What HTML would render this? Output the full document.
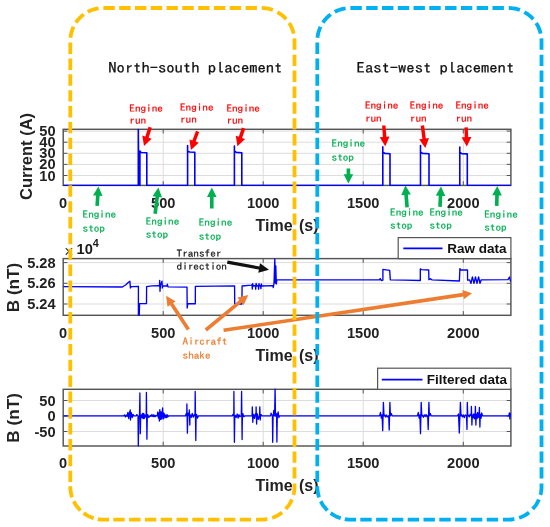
<!DOCTYPE html><html><head><meta charset="utf-8"><style>html,body{margin:0;padding:0;background:#fff;width:550px;height:527px;overflow:hidden}svg{display:block}</style></head><body><svg width="550" height="527" viewBox="0 0 550 527">
<defs>
<clipPath id="ctop"><rect x="63.2" y="128.8" width="447.7" height="57.1"/></clipPath>
<clipPath id="cmid"><rect x="63.2" y="258.1" width="447.7" height="57.7"/></clipPath>
<clipPath id="cbot"><rect x="63.2" y="388.8" width="447.7" height="57.7"/></clipPath>
</defs>
<style>.tk{font:bold 14.6px "Liberation Sans",Arial,sans-serif;fill:#222}.xl{font:bold 16px "Liberation Sans",Arial,sans-serif;fill:#222}.yl{font:bold 16.5px "Liberation Sans",Arial,sans-serif;fill:#222}.lg{font:bold 13.5px "Liberation Sans",Arial,sans-serif;fill:#111}.an{font-family:"IPAGothic","Liberation Mono",monospace;font-size:11.2px;stroke:currentColor;stroke-width:0.25px}.ti{font-family:"IPAGothic","Liberation Mono",monospace;font-size:16.6px;fill:#111;stroke:#111;stroke-width:0.3px}</style>
<rect width="550" height="527" fill="#fff"/>
<line x1="63.2" y1="175.5" x2="510.9" y2="175.5" stroke="#dcdcdc" stroke-width="1"/>
<line x1="63.2" y1="164.4" x2="510.9" y2="164.4" stroke="#dcdcdc" stroke-width="1"/>
<line x1="63.2" y1="153.3" x2="510.9" y2="153.3" stroke="#dcdcdc" stroke-width="1"/>
<line x1="63.2" y1="142.2" x2="510.9" y2="142.2" stroke="#dcdcdc" stroke-width="1"/>
<line x1="63.2" y1="131.1" x2="510.9" y2="131.1" stroke="#dcdcdc" stroke-width="1"/>
<line x1="163.2" y1="129.3" x2="163.2" y2="185.4" stroke="#dcdcdc" stroke-width="1"/>
<line x1="263.2" y1="129.3" x2="263.2" y2="185.4" stroke="#dcdcdc" stroke-width="1"/>
<line x1="363.2" y1="129.3" x2="363.2" y2="185.4" stroke="#dcdcdc" stroke-width="1"/>
<line x1="463.3" y1="129.3" x2="463.3" y2="185.4" stroke="#dcdcdc" stroke-width="1"/>
<path d="M63.2 175.5h4.2M510.9 175.5h-4.2M63.2 164.4h4.2M510.9 164.4h-4.2M63.2 153.3h4.2M510.9 153.3h-4.2M63.2 142.2h4.2M510.9 142.2h-4.2M63.2 131.1h4.2M510.9 131.1h-4.2M163.2 185.4v-4.2M163.2 129.3v4.2M263.2 185.4v-4.2M263.2 129.3v4.2M363.2 185.4v-4.2M363.2 129.3v4.2M463.3 185.4v-4.2M463.3 129.3v4.2" stroke="#555555" stroke-width="1" fill="none"/>
<rect x="63.2" y="129.3" width="447.7" height="56.1" fill="none" stroke="#555555" stroke-width="1.45"/>
<path d="M63.2 185.5 L138.3 185.5 L138.3 129.3 L138.9 185.5 L139.9 185.5 L139.9 151 L141.1 152.5 L146.8 152.8 L146.8 185.5 L187.6 185.5 L187.6 145.5 L187.6 151.1 L188.6 151.6 L189.6 152 L194.8 152.3 L194.8 185.5 L234.4 185.5 L234.4 146 L234.4 151.3 L235.4 151.8 L236.4 152.4 L241.8 152.7 L241.8 185.5 L382.8 185.5 L382.8 146.9 L382.8 152.1 L383.8 152.6 L384.8 153.4 L390 153.7 L390 185.5 L420.5 185.5 L420.5 145.5 L420.5 152.1 L421.5 152.6 L422.5 153.4 L429 153.7 L429 185.5 L459.8 185.5 L459.8 147 L459.8 152.5 L460.8 153 L461.8 153.6 L467.3 153.9 L467.3 185.5 L510.9 185.5" stroke="#0000ff" stroke-width="1.6" fill="none" stroke-linejoin="round" clip-path="url(#ctop)"/>
<text x="55.6" y="180.5" class="tk" text-anchor="end">10</text>
<text x="55.6" y="169.4" class="tk" text-anchor="end">20</text>
<text x="55.6" y="158.3" class="tk" text-anchor="end">30</text>
<text x="55.6" y="147.2" class="tk" text-anchor="end">40</text>
<text x="55.6" y="136.1" class="tk" text-anchor="end">50</text>
<text x="63.1" y="207.8" class="tk" text-anchor="middle">0</text>
<text x="163.2" y="207.8" class="tk" text-anchor="middle">500</text>
<text x="263.2" y="207.8" class="tk" text-anchor="middle">1000</text>
<text x="363.2" y="207.8" class="tk" text-anchor="middle">1500</text>
<text x="463.3" y="207.8" class="tk" text-anchor="middle">2000</text>
<text x="255.5" y="230.7" class="xl" word-spacing="2">Time (s)</text>
<text transform="translate(31.6,156.5) rotate(-90)" class="yl" text-anchor="middle">Current (A)</text>
<line x1="63.2" y1="304" x2="510.9" y2="304" stroke="#dcdcdc" stroke-width="1"/>
<line x1="63.2" y1="283.3" x2="510.9" y2="283.3" stroke="#dcdcdc" stroke-width="1"/>
<line x1="63.2" y1="262.6" x2="510.9" y2="262.6" stroke="#dcdcdc" stroke-width="1"/>
<line x1="163.2" y1="258.6" x2="163.2" y2="315.3" stroke="#dcdcdc" stroke-width="1"/>
<line x1="263.2" y1="258.6" x2="263.2" y2="315.3" stroke="#dcdcdc" stroke-width="1"/>
<line x1="363.2" y1="258.6" x2="363.2" y2="315.3" stroke="#dcdcdc" stroke-width="1"/>
<line x1="463.3" y1="258.6" x2="463.3" y2="315.3" stroke="#dcdcdc" stroke-width="1"/>
<path d="M63.2 304h4.2M510.9 304h-4.2M63.2 283.3h4.2M510.9 283.3h-4.2M63.2 262.6h4.2M510.9 262.6h-4.2M163.2 315.3v-4.2M163.2 258.6v4.2M263.2 315.3v-4.2M263.2 258.6v4.2M363.2 315.3v-4.2M363.2 258.6v4.2M463.3 315.3v-4.2M463.3 258.6v4.2" stroke="#555555" stroke-width="1" fill="none"/>
<rect x="63.2" y="258.6" width="447.7" height="56.7" fill="none" stroke="#555555" stroke-width="1.45"/>
<path d="M63.2 286.6 L122.3 287 L125.6 285 L128.5 282.3 L129.9 281.2 L130.4 288 L131.3 286.6 L138.4 286.3 L138.4 316 L139.2 316 L139.6 303.6 L146.5 303.6 L146.6 286.6 L152 285.9 L158 285.7 L159.5 286 L159.7 280.4 L160 291.3 L160.4 285.5 L162 281.2 L162.3 288 L162.7 285.8 L167 286 L167.3 284.2 L168 286.8 L187 287.1 L187.2 308 L187.8 303.7 L195.3 303.7 L195.4 286.3 L234.6 285.9 L234.7 304 L241.9 304 L242.1 286 L251.2 285.2 L252 284.8 L252.3 289 L252.7 283.6 L253.2 286 L255.4 285.5 L255.7 289.2 L256.1 283.5 L256.6 286 L258.3 285.5 L258.6 289.2 L259 283.6 L259.5 286 L260.6 285.5 L260.9 288.6 L261.3 284 L261.8 286 L272.8 285.6 L273.3 287.5 L274 283.5 L274.8 259 L275.3 283 L275.8 266 L276.3 284 L276.8 279.8 L379.4 279.8 L380.2 278.6 L381.2 280.5 L382.9 280 L382.9 269.3 L389.7 270.4 L390.3 279.8 L405 280.2 L420.3 280.5 L420.3 268.9 L421.5 269.6 L428.7 270 L428.9 279.7 L430.5 278.8 L432 279.9 L459.4 281 L459.9 268.7 L460.7 270 L467.5 270 L467.6 280.2 L469.7 280 L471 283.4 L472.4 276.9 L474 283.4 L475.5 276.9 L477 283.4 L478.6 276.9 L480 283.4 L481.2 279.8 L508 279.6 L509.5 277 L510.5 281 L510.9 279.5" stroke="#0000ff" stroke-width="1.35" fill="none" stroke-linejoin="round" clip-path="url(#cmid)"/>
<text x="55.6" y="309" class="tk" text-anchor="end">5.24</text>
<text x="55.6" y="288.3" class="tk" text-anchor="end">5.26</text>
<text x="55.6" y="267.6" class="tk" text-anchor="end">5.28</text>
<text x="63.1" y="337.7" class="tk" text-anchor="middle">0</text>
<text x="163.2" y="337.7" class="tk" text-anchor="middle">500</text>
<text x="263.2" y="337.7" class="tk" text-anchor="middle">1000</text>
<text x="363.2" y="337.7" class="tk" text-anchor="middle">1500</text>
<text x="463.3" y="337.7" class="tk" text-anchor="middle">2000</text>
<text x="255.5" y="360.6" class="xl" word-spacing="2">Time (s)</text>
<text transform="translate(19.2,287.5) rotate(-90) scale(1.04,1)" class="yl" text-anchor="middle">B (nT)</text>
<text x="64.2" y="256.6" style="font:16px 'Liberation Sans',Arial,sans-serif;fill:#333">×</text>
<text x="76.6" y="254.4" style="font:bold 14.6px 'Liberation Sans',Arial,sans-serif;fill:#1a1a1a">10</text>
<text x="92.8" y="246.6" style="font:bold 10.8px 'Liberation Sans',Arial,sans-serif;fill:#1a1a1a">4</text>
<line x1="63.2" y1="431.5" x2="510.9" y2="431.5" stroke="#dcdcdc" stroke-width="1"/>
<line x1="63.2" y1="416" x2="510.9" y2="416" stroke="#dcdcdc" stroke-width="1"/>
<line x1="63.2" y1="400.5" x2="510.9" y2="400.5" stroke="#dcdcdc" stroke-width="1"/>
<line x1="163.2" y1="389.3" x2="163.2" y2="446.0" stroke="#dcdcdc" stroke-width="1"/>
<line x1="263.2" y1="389.3" x2="263.2" y2="446.0" stroke="#dcdcdc" stroke-width="1"/>
<line x1="363.2" y1="389.3" x2="363.2" y2="446.0" stroke="#dcdcdc" stroke-width="1"/>
<line x1="463.3" y1="389.3" x2="463.3" y2="446.0" stroke="#dcdcdc" stroke-width="1"/>
<path d="M63.2 431.5h4.2M510.9 431.5h-4.2M63.2 416h4.2M510.9 416h-4.2M63.2 400.5h4.2M510.9 400.5h-4.2M163.2 446.0v-4.2M163.2 389.3v4.2M263.2 446.0v-4.2M263.2 389.3v4.2M363.2 446.0v-4.2M363.2 389.3v4.2M463.3 446.0v-4.2M463.3 389.3v4.2" stroke="#555555" stroke-width="1" fill="none"/>
<rect x="63.2" y="389.3" width="447.7" height="56.7" fill="none" stroke="#555555" stroke-width="1.45"/>
<path d="M63.2 415.8 L123.7 415.8 L124.5 415 L125.4 416.9 L126.2 415.1 L127.1 416.5 L127.9 412.4 L128.8 418.6 L129.6 411.7 L130.2 415.8 L130.2 409.8 L130.5 417.8 L130.5 420 L130.8 415.8 L131.3 412.7 L132.2 417.5 L133 414.4 L133.9 416 L134.5 415.8 L136.3 415.8 L136.8 414.6 L138 415.8 L138.3 446.5 L138.8 418 L139.5 415.8 L139.9 393 L140.3 433.7 L140.7 415.8 L141 415.8 L141.3 414.9 L141.9 417.6 L142.5 413.5 L143.1 418.6 L143.7 413.3 L144.3 418.5 L144.9 415 L145.5 417 L146.2 415.8 L146.2 415.8 L146.4 392.4 L146.9 439.2 L147.3 415.8 L147.4 415.8 L147.8 414.6 L148.8 417.5 L150 415.8 L150 415.8 L150.3 415.5 L151 416.2 L151.7 414.8 L152.4 416.3 L153.1 414.7 L153.8 416.7 L154.5 415.3 L155.2 416.6 L155.9 415.5 L156.8 415.8 L157.2 415.8 L157.8 412 L158.4 418 L158.9 413 L159.4 421 L159.8 409.7 L160.3 419.5 L160.9 412 L161.5 419 L162.1 413 L162.6 408 L163.1 419 L163.6 413 L164.1 418 L164.6 414 L164.8 415.8 L165.1 415.3 L165.7 417.5 L166.3 415 L166.9 417.5 L167.5 415 L168.1 416.6 L169 415.8 L185.5 415.8 L185.6 415.8 L186 413.9 L186.6 415.8 L186.7 415.8 L186.9 404 L187.4 433.2 L187.8 415.8 L187.8 415.8 L188.2 413.2 L189.1 415.8 L189.2 415.8 L189.3 410 L189.8 425 L190 415.8 L190.2 415.8 L190.4 415 L191.3 417.3 L192.2 413.4 L193.2 417.2 L194.1 414.8 L194.6 415.8 L195 415.8 L195.2 391.4 L195.8 440.5 L196.1 415.8 L196.2 415.8 L196.6 414.4 L197.5 418 L198.5 415.8 L232.5 415.8 L232.5 415.8 L232.9 414.4 L233.7 415.8 L233.8 415.8 L233.9 391.4 L234.4 442.3 L234.8 415.8 L234.9 415.8 L235.3 415.4 L236.2 417.4 L237.2 414 L238.1 418.2 L239 414.7 L239.9 416.7 L241 415.8 L241.3 415.8 L241.6 391.4 L242.1 439.5 L242.4 415.8 L242.5 415.8 L242.9 413.7 L243.8 416.7 L245 415.8 L250.5 415.8 L252.1 415.8 L252.3 406.8 L252.8 422.3 L253.2 415.8 L253.2 415.8 L253.6 414.3 L254.5 418.3 L255.4 414 L255.9 415.8 L256 415.8 L256.1 406.8 L256.6 424 L257 415.8 L257 415.8 L257.4 413.9 L258.3 419.3 L259.5 415.8 L259.6 415.8 L259.8 406.8 L260.2 420 L260.6 415.8 L260.6 415.8 L261.1 414.6 L262 415.8 L270.5 415.8 L270.6 415.8 L271.1 413.2 L272.4 415.8 L272.7 442.3 L273.1 416 L273.3 415.8 L273.8 410.5 L274.6 415.8 L275.1 388 L275.5 416 L275.7 415.8 L276.1 413.3 L276.6 415.8 L276.9 442 L277.3 414 L277.6 415.8 L278.1 411.8 L278.9 417.6 L279.5 415.8 L279.8 415.8 L379.6 415.8 L380.5 412.5 L381.3 418 L382.1 415 L382.7 430.7 L383.4 402.3 L384 415.8 L384.3 415.8 L384.8 415.1 L385.6 417 L386.5 415 L387.4 416.9 L388.7 415.8 L389.2 430 L389.9 402.3 L390.4 415.8 L391.3 413.5 L392.1 415.8 L417.4 415.8 L418.3 412.5 L419.1 418 L419.9 415 L420.5 433.7 L421.2 402.3 L421.8 415.8 L422.1 415.8 L422.5 415.5 L423.4 417.2 L424.3 414.8 L425.2 416.5 L426.1 414.5 L427 416.7 L427.7 415.8 L428.2 429.5 L428.9 402.3 L429.4 415.8 L430.3 413.5 L431.1 415.8 L457.5 415.8 L458.5 414 L459.3 433 L460.4 402.3 L461 415.8 L461.3 415.8 L461.8 414.9 L462.6 416.9 L463.5 415 L464.4 417.6 L465.3 414.9 L466.5 415.8 L467 429.4 L467.3 402.5 L467.8 415.8 L468 415.8 L468.4 415.2 L469.3 416.9 L470.2 414.3 L471.2 415.8 L471.2 415.8 L471.4 406.5 L471.9 425 L472.3 415.8 L472.3 415.8 L472.6 415 L473.2 417.5 L473.8 413.8 L474.4 418.8 L475 415.8 L475.1 415.8 L475.4 406.5 L475.9 425 L476.2 415.8 L476.2 415.8 L476.5 414.2 L477.1 418.5 L477.7 412.3 L478.3 417.5 L479.1 415.8 L479.1 415.8 L479.4 407.5 L479.9 427 L480.2 415.8 L480.2 415.8 L480.5 414.3 L481.1 418.2 L481.7 412.9 L482.5 415.8 L482.6 415.8 L508.8 415.8 L509.4 413 L509.9 419 L510.4 413.5 L510.9 415.8" stroke="#0000ff" stroke-width="1.3" fill="none" stroke-linejoin="round" clip-path="url(#cbot)"/>
<text x="55.6" y="436.5" class="tk" text-anchor="end">-50</text>
<text x="55.6" y="421" class="tk" text-anchor="end">0</text>
<text x="55.6" y="405.5" class="tk" text-anchor="end">50</text>
<text x="63.1" y="468.4" class="tk" text-anchor="middle">0</text>
<text x="163.2" y="468.4" class="tk" text-anchor="middle">500</text>
<text x="263.2" y="468.4" class="tk" text-anchor="middle">1000</text>
<text x="363.2" y="468.4" class="tk" text-anchor="middle">1500</text>
<text x="463.3" y="468.4" class="tk" text-anchor="middle">2000</text>
<text x="255.5" y="491.3" class="xl" word-spacing="2">Time (s)</text>
<text transform="translate(19.2,417.9) rotate(-90) scale(1.04,1)" class="yl" text-anchor="middle">B (nT)</text>
<rect x="398.2" y="237.6" width="112.7" height="21" fill="#fff" stroke="#555555" stroke-width="1.2"/>
<line x1="403.3" y1="248.4" x2="442.5" y2="248.4" stroke="#0000ff" stroke-width="1.6"/>
<text x="447.3" y="253.0" class="lg">Raw data</text>
<rect x="377.6" y="368.2" width="133.3" height="21.1" fill="#fff" stroke="#555555" stroke-width="1.2"/>
<line x1="381.8" y1="379.6" x2="422.5" y2="379.6" stroke="#0000ff" stroke-width="1.6"/>
<text x="426.7" y="384.20000000000005" class="lg">Filtered data</text>
<text transform="translate(108.2,72.6) scale(1,0.88)" class="ti" fill="#111" color="#111">North-south placement</text>
<text transform="translate(356.6,73.4) scale(1,0.88)" class="ti" fill="#111" color="#111">East-west placement</text>
<text transform="translate(129.3,111.7) scale(1,0.88)" class="an" fill="#ff0000" color="#ff0000">Engine</text>
<text transform="translate(129.3,124.2) scale(1,0.88)" class="an" fill="#ff0000" color="#ff0000">run</text>
<text transform="translate(180,110.8) scale(1,0.88)" class="an" fill="#ff0000" color="#ff0000">Engine</text>
<text transform="translate(180,123.3) scale(1,0.88)" class="an" fill="#ff0000" color="#ff0000">run</text>
<text transform="translate(226.4,111.5) scale(1,0.88)" class="an" fill="#ff0000" color="#ff0000">Engine</text>
<text transform="translate(226.4,124) scale(1,0.88)" class="an" fill="#ff0000" color="#ff0000">run</text>
<text transform="translate(364.9,109.4) scale(1,0.88)" class="an" fill="#ff0000" color="#ff0000">Engine</text>
<text transform="translate(364.9,121.9) scale(1,0.88)" class="an" fill="#ff0000" color="#ff0000">run</text>
<text transform="translate(409.8,109.4) scale(1,0.88)" class="an" fill="#ff0000" color="#ff0000">Engine</text>
<text transform="translate(409.8,121.9) scale(1,0.88)" class="an" fill="#ff0000" color="#ff0000">run</text>
<text transform="translate(455.4,109.4) scale(1,0.88)" class="an" fill="#ff0000" color="#ff0000">Engine</text>
<text transform="translate(455.4,121.9) scale(1,0.88)" class="an" fill="#ff0000" color="#ff0000">run</text>
<path d="M148.5 126.7 L145.3 136.6 L142.3 135.6 L144.0 146.1 L151.6 138.7 L148.6 137.7 L151.9 127.7Z" fill="#ff0000"/>
<path d="M196.0 130.7 L192.4 140.5 L189.5 139.4 L190.9 149.9 L198.7 142.7 L195.7 141.6 L199.2 131.9Z" fill="#ff0000"/>
<path d="M241.9 127.6 L238.8 136.7 L235.8 135.7 L237.4 146.2 L245.1 138.9 L242.1 137.9 L245.3 128.8Z" fill="#ff0000"/>
<path d="M382.1 125.6 L382.9 137.0 L379.7 137.2 L385.3 146.2 L389.5 136.5 L386.4 136.7 L385.5 125.4Z" fill="#ff0000"/>
<path d="M420.7 125.7 L422.4 138.9 L419.2 139.3 L425.3 148.0 L429.0 138.1 L425.8 138.5 L424.1 125.3Z" fill="#ff0000"/>
<path d="M464.4 127.4 L464.7 137.2 L461.6 137.3 L466.8 146.5 L471.4 136.9 L468.2 137.0 L467.8 127.2Z" fill="#ff0000"/>
<text transform="translate(82.6,218.3) scale(1,0.88)" class="an" fill="#00b050" color="#00b050">Engine</text>
<text transform="translate(82.6,231.5) scale(1,0.88)" class="an" fill="#00b050" color="#00b050">stop</text>
<text transform="translate(145.7,224.8) scale(1,0.88)" class="an" fill="#00b050" color="#00b050">Engine</text>
<text transform="translate(145.7,238) scale(1,0.88)" class="an" fill="#00b050" color="#00b050">stop</text>
<text transform="translate(198.7,226.3) scale(1,0.88)" class="an" fill="#00b050" color="#00b050">Engine</text>
<text transform="translate(198.7,239.5) scale(1,0.88)" class="an" fill="#00b050" color="#00b050">stop</text>
<text transform="translate(331.6,147.3) scale(1,0.88)" class="an" fill="#00b050" color="#00b050">Engine</text>
<text transform="translate(331.6,160.5) scale(1,0.88)" class="an" fill="#00b050" color="#00b050">stop</text>
<text transform="translate(390.1,215.6) scale(1,0.88)" class="an" fill="#00b050" color="#00b050">Engine</text>
<text transform="translate(390.1,228.8) scale(1,0.88)" class="an" fill="#00b050" color="#00b050">stop</text>
<text transform="translate(429.4,215.6) scale(1,0.88)" class="an" fill="#00b050" color="#00b050">Engine</text>
<text transform="translate(429.4,228.8) scale(1,0.88)" class="an" fill="#00b050" color="#00b050">stop</text>
<text transform="translate(484.2,218) scale(1,0.88)" class="an" fill="#00b050" color="#00b050">Engine</text>
<text transform="translate(484.2,231.2) scale(1,0.88)" class="an" fill="#00b050" color="#00b050">stop</text>
<path d="M98.9 206.0 L99.6 195.8 L102.6 196.0 L98.4 186.4 L93.0 195.4 L96.0 195.6 L95.3 205.8Z" fill="#00b050"/>
<path d="M156.9 214.0 L159.0 197.1 L162.0 197.4 L158.4 187.6 L152.5 196.2 L155.5 196.6 L153.3 213.6Z" fill="#00b050"/>
<path d="M213.6 208.4 L213.6 196.9 L216.6 196.9 L211.8 187.6 L207.0 196.9 L210.0 196.9 L210.0 208.4Z" fill="#00b050"/>
<path d="M346.6 168.5 L346.6 174.2 L343.6 174.2 L348.4 183.5 L353.2 174.2 L350.2 174.2 L350.2 168.5Z" fill="#00b050"/>
<path d="M408.9 207.2 L407.9 194.6 L410.9 194.4 L405.4 185.5 L401.3 195.1 L404.3 194.9 L405.3 207.4Z" fill="#00b050"/>
<path d="M441.8 207.0 L442.3 195.9 L445.3 196.0 L441.0 186.5 L435.8 195.6 L438.7 195.7 L438.2 206.8Z" fill="#00b050"/>
<path d="M498.5 206.0 L498.8 195.4 L501.8 195.4 L497.3 186.0 L492.2 195.2 L495.2 195.2 L494.9 205.8Z" fill="#00b050"/>
<text transform="translate(176.6,256.5) scale(1,0.88)" class="an" fill="#1a1a1a" color="#1a1a1a">Transfer</text>
<text transform="translate(176.6,269.6) scale(1,0.88)" class="an" fill="#1a1a1a" color="#1a1a1a">direction</text>
<path d="M227.0 263.8 L258.9 269.6 L258.3 272.7 L269.0 269.8 L260.0 263.3 L259.4 266.4 L227.6 260.6Z" fill="#111111"/>
<text transform="translate(182.6,345.4) scale(1,0.88)" class="an" fill="#ed7d31" color="#ed7d31">Aircraft</text>
<text transform="translate(182.6,358.7) scale(1,0.88)" class="an" fill="#ed7d31" color="#ed7d31">shake</text>
<path d="M189.9 328.6 L173.1 303.1 L175.7 301.4 L166.1 295.7 L167.5 306.7 L170.1 305.0 L186.9 330.6Z" fill="#ed7d31"/>
<path d="M206.9 331.4 L241.7 302.7 L243.7 305.1 L248.3 295.0 L237.5 297.6 L239.4 300.0 L204.7 328.6Z" fill="#ed7d31"/>
<path d="M223.9 332.1 L463.4 296.4 L463.8 299.2 L472.0 293.3 L462.4 290.1 L462.8 292.8 L223.3 328.5Z" fill="#ed7d31"/>
<path fill="none" stroke-width="3.8" stroke="#ffc000" d="M103.4 8.0L114.8 8.0M119.2 8.0L130.6 8.0M135.0 8.0L146.4 8.0M150.8 8.0L162.2 8.0M166.5 8.0L177.9 8.0M182.3 8.0L193.7 8.0M198.1 8.0L209.5 8.0M213.9 8.0L225.3 8.0M229.7 8.0L241.1 8.0M245.5 8.0L256.9 8.0M261.8 8.0L262.7 8.0L263.7 8.1L264.6 8.1L265.6 8.3L266.5 8.4L267.5 8.5L268.4 8.7L269.3 8.9L270.2 9.2L271.1 9.4L272.1 9.7L272.9 10.0M277.4 12.1L278.2 12.6L279.1 13.1L279.8 13.6L280.6 14.1L281.4 14.7L282.1 15.3L282.9 15.9L283.6 16.5L284.3 17.1L285.0 17.8L285.6 18.5L286.3 19.2M289.2 23.1L289.7 23.9L290.2 24.7L290.7 25.6L291.1 26.4L291.5 27.3L291.9 28.1L292.2 29.0L292.6 29.9L292.9 30.8L293.2 31.7L293.4 32.6L293.6 33.6M294.4 38.4L294.5 39.4L294.5 40.3L294.5 41.3L294.5 42.2L294.5 43.2L294.5 44.1L294.5 45.1L294.5 46.0L294.5 47.0L294.5 47.9L294.5 48.9L294.5 49.8M294.5 54.7L294.5 66.1M294.5 70.6L294.5 82.0M294.5 86.5L294.5 97.9M294.5 102.3L294.5 113.7M294.5 118.2L294.5 129.6M294.5 134.1L294.5 145.4M294.5 149.9L294.5 161.3M294.5 165.8L294.5 177.2M294.5 181.6L294.5 193.0M294.5 197.5L294.5 208.9M294.5 213.4L294.5 224.8M294.5 229.2L294.5 240.6M294.5 245.1L294.5 256.5M294.5 261.0L294.5 272.4M294.5 276.8L294.5 288.2M294.5 292.7L294.5 304.1M294.5 308.6L294.5 320.0M294.5 324.4L294.5 335.8M294.5 340.3L294.5 351.7M294.5 356.2L294.5 367.6M294.5 372.0L294.5 383.4M294.5 387.9L294.5 399.3M294.5 403.8L294.5 415.2M294.5 419.6L294.5 431.0M294.5 435.5L294.5 446.9M294.5 451.4L294.5 462.8M294.5 467.2L294.5 478.6M294.5 483.6L294.5 484.5L294.5 485.5L294.5 486.4L294.5 487.4L294.5 488.3L294.4 489.3L294.3 490.2L294.2 491.1L294.0 492.1L293.9 493.0L293.7 494.0L293.4 494.9M291.9 499.5L291.5 500.4L291.1 501.3L290.6 502.1L290.2 502.9L289.7 503.8L289.2 504.6L288.7 505.3L288.1 506.1L287.5 506.9L286.9 507.6L286.3 508.3L285.7 509.0M282.1 512.4L281.3 513.0L280.6 513.5L279.8 514.1L279.0 514.6L278.2 515.1L277.3 515.6L276.5 516.0L275.6 516.4L274.8 516.8L273.9 517.2L273.0 517.5L272.1 517.8M267.4 519.1L266.4 519.2L265.5 519.4L264.5 519.5L263.6 519.5L262.6 519.6L261.7 519.6L260.7 519.6L259.8 519.6L258.8 519.6L257.9 519.6L256.9 519.6L256.0 519.6M251.1 519.6L239.7 519.6M235.3 519.6L223.9 519.6M219.5 519.6L208.1 519.6M203.7 519.6L192.3 519.6M187.9 519.6L176.5 519.6M172.1 519.6L160.7 519.6M156.3 519.6L144.9 519.6M140.5 519.6L129.1 519.6M124.7 519.6L113.3 519.6M109.1 519.6L108.2 519.6L107.2 519.6L106.3 519.6L105.3 519.6L104.4 519.6L103.4 519.6L102.5 519.6L101.5 519.6L100.6 519.5L99.7 519.4L98.7 519.3L97.8 519.1M93.7 518.2L92.8 517.9L91.9 517.6L91.0 517.2L90.2 516.9L89.3 516.5L88.5 516.1L87.6 515.6L86.8 515.2L86.0 514.7L85.2 514.2L84.4 513.6L83.6 513.1M80.4 510.4L79.8 509.7L79.1 509.0L78.5 508.3L77.9 507.6L77.3 506.9L76.7 506.1L76.1 505.3L75.6 504.6L75.1 503.8L74.6 502.9L74.2 502.1L73.7 501.3M72.1 497.4L71.8 496.5L71.6 495.6L71.3 494.7L71.1 493.8L70.9 492.9L70.7 491.9L70.6 491.0L70.5 490.0L70.4 489.1L70.3 488.1L70.3 487.2L70.3 486.2M70.3 482.1L70.3 470.7M70.3 466.2L70.3 454.8M70.3 450.4L70.3 439.0M70.3 434.5L70.3 423.1M70.3 418.7L70.3 407.3M70.3 402.8L70.3 391.4M70.3 387.0L70.3 375.6M70.3 371.1L70.3 359.7M70.3 355.3L70.3 343.9M70.3 339.4L70.3 328.0M70.3 323.5L70.3 312.1M70.3 307.7L70.3 296.3M70.3 291.8L70.3 280.4M70.3 276.0L70.3 264.6M70.3 260.1L70.3 248.7M70.3 244.3L70.3 232.9M70.3 228.4L70.3 217.0M70.3 212.6L70.3 201.2M70.3 196.7L70.3 185.3M70.3 180.9L70.3 169.4M70.3 165.0L70.3 153.6M70.3 149.1L70.3 137.7M70.3 133.3L70.3 121.9M70.3 117.4L70.3 106.0M70.3 101.6L70.3 90.2M70.3 85.7L70.3 74.3M70.3 69.9L70.3 58.5M70.3 54.0L70.3 42.6M70.5 37.8L70.6 36.8L70.7 35.9L70.9 35.0L71.0 34.0L71.3 33.1L71.5 32.2L71.8 31.3L72.1 30.4L72.4 29.5L72.7 28.6L73.1 27.7L73.5 26.8M75.9 22.6L76.4 21.9L77.0 21.1L77.6 20.3L78.2 19.6L78.8 18.9L79.4 18.2L80.1 17.5L80.8 16.9L81.5 16.2L82.2 15.6L83.0 15.0L83.7 14.4M87.8 11.9L88.6 11.4L89.5 11.0L90.4 10.6L91.2 10.3L92.1 9.9L93.0 9.6L93.9 9.4L94.9 9.1L95.8 8.9L96.7 8.7L97.6 8.5L98.6 8.3"/>
<path fill="none" stroke-width="3.8" stroke="#00b0f0" transform="translate(247,0)" d="M103.4 8.0L114.8 8.0M119.2 8.0L130.6 8.0M135.0 8.0L146.4 8.0M150.8 8.0L162.2 8.0M166.5 8.0L177.9 8.0M182.3 8.0L193.7 8.0M198.1 8.0L209.5 8.0M213.9 8.0L225.3 8.0M229.7 8.0L241.1 8.0M245.5 8.0L256.9 8.0M261.8 8.0L262.7 8.0L263.7 8.1L264.6 8.1L265.6 8.3L266.5 8.4L267.5 8.5L268.4 8.7L269.3 8.9L270.2 9.2L271.1 9.4L272.1 9.7L272.9 10.0M277.4 12.1L278.2 12.6L279.1 13.1L279.8 13.6L280.6 14.1L281.4 14.7L282.1 15.3L282.9 15.9L283.6 16.5L284.3 17.1L285.0 17.8L285.6 18.5L286.3 19.2M289.2 23.1L289.7 23.9L290.2 24.7L290.7 25.6L291.1 26.4L291.5 27.3L291.9 28.1L292.2 29.0L292.6 29.9L292.9 30.8L293.2 31.7L293.4 32.6L293.6 33.6M294.4 38.4L294.5 39.4L294.5 40.3L294.5 41.3L294.5 42.2L294.5 43.2L294.5 44.1L294.5 45.1L294.5 46.0L294.5 47.0L294.5 47.9L294.5 48.9L294.5 49.8M294.5 54.7L294.5 66.1M294.5 70.6L294.5 82.0M294.5 86.5L294.5 97.9M294.5 102.3L294.5 113.7M294.5 118.2L294.5 129.6M294.5 134.1L294.5 145.4M294.5 149.9L294.5 161.3M294.5 165.8L294.5 177.2M294.5 181.6L294.5 193.0M294.5 197.5L294.5 208.9M294.5 213.4L294.5 224.8M294.5 229.2L294.5 240.6M294.5 245.1L294.5 256.5M294.5 261.0L294.5 272.4M294.5 276.8L294.5 288.2M294.5 292.7L294.5 304.1M294.5 308.6L294.5 320.0M294.5 324.4L294.5 335.8M294.5 340.3L294.5 351.7M294.5 356.2L294.5 367.6M294.5 372.0L294.5 383.4M294.5 387.9L294.5 399.3M294.5 403.8L294.5 415.2M294.5 419.6L294.5 431.0M294.5 435.5L294.5 446.9M294.5 451.4L294.5 462.8M294.5 467.2L294.5 478.6M294.5 483.6L294.5 484.5L294.5 485.5L294.5 486.4L294.5 487.4L294.5 488.3L294.4 489.3L294.3 490.2L294.2 491.1L294.0 492.1L293.9 493.0L293.7 494.0L293.4 494.9M291.9 499.5L291.5 500.4L291.1 501.3L290.6 502.1L290.2 502.9L289.7 503.8L289.2 504.6L288.7 505.3L288.1 506.1L287.5 506.9L286.9 507.6L286.3 508.3L285.7 509.0M282.1 512.4L281.3 513.0L280.6 513.5L279.8 514.1L279.0 514.6L278.2 515.1L277.3 515.6L276.5 516.0L275.6 516.4L274.8 516.8L273.9 517.2L273.0 517.5L272.1 517.8M267.4 519.1L266.4 519.2L265.5 519.4L264.5 519.5L263.6 519.5L262.6 519.6L261.7 519.6L260.7 519.6L259.8 519.6L258.8 519.6L257.9 519.6L256.9 519.6L256.0 519.6M251.1 519.6L239.7 519.6M235.3 519.6L223.9 519.6M219.5 519.6L208.1 519.6M203.7 519.6L192.3 519.6M187.9 519.6L176.5 519.6M172.1 519.6L160.7 519.6M156.3 519.6L144.9 519.6M140.5 519.6L129.1 519.6M124.7 519.6L113.3 519.6M109.1 519.6L108.2 519.6L107.2 519.6L106.3 519.6L105.3 519.6L104.4 519.6L103.4 519.6L102.5 519.6L101.5 519.6L100.6 519.5L99.7 519.4L98.7 519.3L97.8 519.1M93.7 518.2L92.8 517.9L91.9 517.6L91.0 517.2L90.2 516.9L89.3 516.5L88.5 516.1L87.6 515.6L86.8 515.2L86.0 514.7L85.2 514.2L84.4 513.6L83.6 513.1M80.4 510.4L79.8 509.7L79.1 509.0L78.5 508.3L77.9 507.6L77.3 506.9L76.7 506.1L76.1 505.3L75.6 504.6L75.1 503.8L74.6 502.9L74.2 502.1L73.7 501.3M72.1 497.4L71.8 496.5L71.6 495.6L71.3 494.7L71.1 493.8L70.9 492.9L70.7 491.9L70.6 491.0L70.5 490.0L70.4 489.1L70.3 488.1L70.3 487.2L70.3 486.2M70.3 482.1L70.3 470.7M70.3 466.2L70.3 454.8M70.3 450.4L70.3 439.0M70.3 434.5L70.3 423.1M70.3 418.7L70.3 407.3M70.3 402.8L70.3 391.4M70.3 387.0L70.3 375.6M70.3 371.1L70.3 359.7M70.3 355.3L70.3 343.9M70.3 339.4L70.3 328.0M70.3 323.5L70.3 312.1M70.3 307.7L70.3 296.3M70.3 291.8L70.3 280.4M70.3 276.0L70.3 264.6M70.3 260.1L70.3 248.7M70.3 244.3L70.3 232.9M70.3 228.4L70.3 217.0M70.3 212.6L70.3 201.2M70.3 196.7L70.3 185.3M70.3 180.9L70.3 169.4M70.3 165.0L70.3 153.6M70.3 149.1L70.3 137.7M70.3 133.3L70.3 121.9M70.3 117.4L70.3 106.0M70.3 101.6L70.3 90.2M70.3 85.7L70.3 74.3M70.3 69.9L70.3 58.5M70.3 54.0L70.3 42.6M70.5 37.8L70.6 36.8L70.7 35.9L70.9 35.0L71.0 34.0L71.3 33.1L71.5 32.2L71.8 31.3L72.1 30.4L72.4 29.5L72.7 28.6L73.1 27.7L73.5 26.8M75.9 22.6L76.4 21.9L77.0 21.1L77.6 20.3L78.2 19.6L78.8 18.9L79.4 18.2L80.1 17.5L80.8 16.9L81.5 16.2L82.2 15.6L83.0 15.0L83.7 14.4M87.8 11.9L88.6 11.4L89.5 11.0L90.4 10.6L91.2 10.3L92.1 9.9L93.0 9.6L93.9 9.4L94.9 9.1L95.8 8.9L96.7 8.7L97.6 8.5L98.6 8.3"/>
</svg></body></html>
